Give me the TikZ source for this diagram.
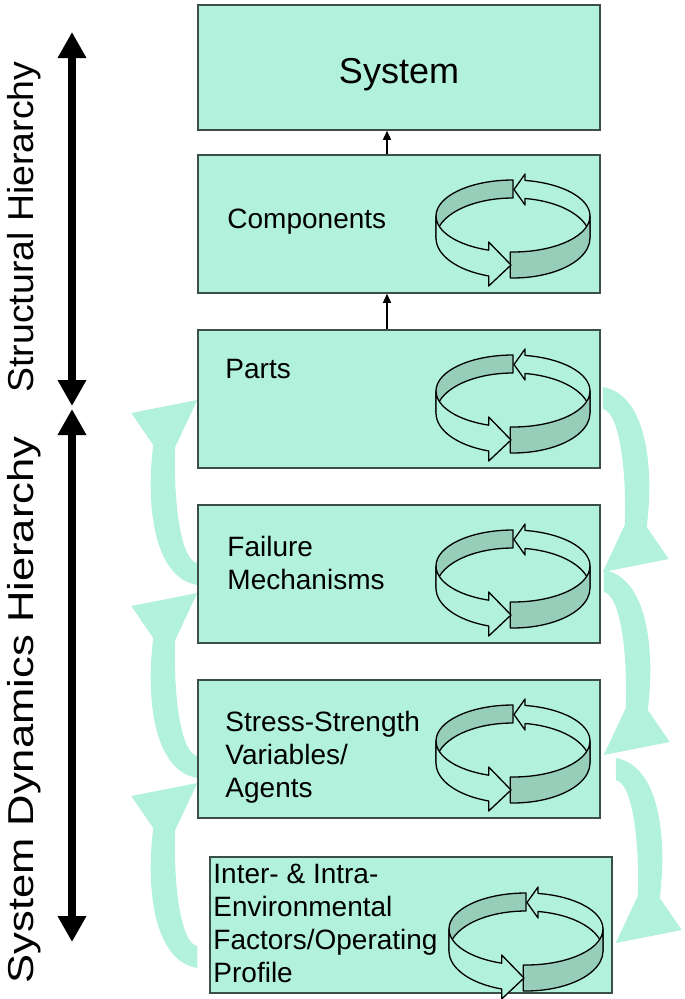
\documentclass[tikz,border=0pt]{standalone}
\usepackage{fontspec}
\setmainfont{Liberation Sans}
\usetikzlibrary{arrows.meta,backgrounds}

\definecolor{mint}{RGB}{178,242,220}
\definecolor{mintdark}{RGB}{150,206,186}
\definecolor{boxline}{RGB}{60,78,72}

\tikzset{
	box/.style={draw=boxline, fill=mint, line width=1.5pt, minimum width=402pt, minimum height=138pt, inner sep=0pt},
	boxtext/.style={font=\fontsize{28}{33}\selectfont, align=left, inner sep=0pt, anchor=north west},
	vlabel/.style={font=\fontsize{36}{40}\selectfont, rotate=90, anchor=base, inner sep=0pt},
	hier/.style={line width=8pt, >={Triangle[width=27pt,length=26pt]}, <->},
	uparrow/.style={line width=1.4pt, -{Triangle[width=8pt,length=9pt]}},
	ring/.style={draw=black, line width=1.3pt, line join=round},
	loopicon/.pic={
		\filldraw[ring, fill=mintdark] (-77,0) arc[start angle=180,end angle=90,x radius=77,y radius=36]
			-- (0,18) arc[start angle=90,end angle=180,x radius=77,y radius=40] -- cycle;
		\filldraw[ring, fill=mint] (77,0) arc[start angle=0,end angle=81,x radius=77,y radius=36]
			-- (12.04,42) -- (1,26.5) -- (12.04,11) -- (12.04,17.51)
			arc[start angle=81,end angle=0,x radius=77,y radius=40] -- cycle;
		\filldraw[ring, fill=mintdark] (-2.69,-35.98) arc[start angle=268,end angle=360,x radius=77,y radius=36]
			-- (77,-22) arc[start angle=0,end angle=-92,x radius=77,y radius=40] -- cycle;
		\filldraw[ring, fill=mint] (-77,0) arc[start angle=180,end angle=251.6,x radius=77,y radius=36]
			-- (-24.3,-26) -- (-2,-49) -- (-24.3,-70) -- (-24.3,-59.96)
			arc[start angle=251.6,end angle=180,x radius=77,y radius=40] -- cycle;
	},
	bigarrow/.pic={
		\fill[mint] (0,0) -- (-66,-13) -- (-44,-45)
			.. controls (-52,-110) and (-42,-178) .. (0,-185)
			-- (0,-163)
			.. controls (-17,-160) and (-24,-100) .. (-22,-47) -- cycle;
	}
}

\begin{document}
\begin{tikzpicture}[x=1pt,y=1pt]
	\useasboundingbox (0,0) rectangle (685,-999);

	\node[box, minimum height=125pt] (sys) at (399,-67.5) {};
	\node[box] (comp) at (399,-224) {};
	\node[box] (parts) at (399,-399) {};
	\node[box] (fail) at (399,-574) {};
	\node[box] (stress) at (399,-749) {};
	\node[box, minimum height=136pt] (inter) at (411,-925) {};

	\node[font=\fontsize{36}{40}\selectfont, anchor=base, inner sep=0pt] (systxt) at ([yshift=-16]sys.center) {System};
	\node[boxtext] (comptxt) at ([shift={(30,-54)}]comp.north west) {Components};
	\node[boxtext] (partstxt) at ([shift={(28,-30)}]parts.north west) {Parts};
	\node[boxtext] (failtxt) at ([shift={(30,-32)}]fail.north west) {Failure\\Mechanisms};
	\node[boxtext] (stresstxt) at ([shift={(28,-32)}]stress.north west) {Stress-Strength\\Variables/\\Agents};
	\node[boxtext] (intertxt) at ([shift={(4,-8)}]inter.north west) {Inter- \& Intra-\\Environmental\\Factors/Operating\\Profile};

	\pic at ([shift={(114,8)}]comp.center) {loopicon};
	\pic at ([shift={(114,8)}]parts.center) {loopicon};
	\pic at ([shift={(114,8)}]fail.center) {loopicon};
	\pic at ([shift={(114,8)}]stress.center) {loopicon};
	\pic at ([shift={(115,-4)}]inter.center) {loopicon};

	\draw[uparrow] ([xshift=-12pt]comp.north) -- ([xshift=-12pt]sys.south);
	\draw[uparrow] ([xshift=-12pt]parts.north) -- ([xshift=-12pt]comp.south);

	% feedback between the levels
	\begin{scope}[on background layer]
		\pic at ([yshift=-1pt]parts.west) {bigarrow};
		\pic at ([yshift=-19pt]fail.west) {bigarrow};
		\pic at ([yshift=-34pt]stress.west) {bigarrow};
		\pic[rotate=180] at ([shift={(2,2)}]fail.east) {bigarrow};
		\pic[rotate=180] at ([shift={(3,-6)}]stress.east) {bigarrow};
		\pic[rotate=180] at ([shift={(3,-18)}]inter.east) {bigarrow};
	\end{scope}

	\coordinate (stTop) at (72,-32);
	\coordinate (stBot) at (72,-406);
	\coordinate (dyTop) at (72,-409);
	\coordinate (dyBot) at (72,-942);
	\draw[hier] (stTop) -- (stBot);
	\draw[hier] (dyTop) -- (dyBot);

	\node[vlabel, xscale=1.04] (stLabel) at (34,-227) {Structural Hierarchy};
	\node[vlabel, xscale=1.21] (dyLabel) at (34,-710) {System Dynamics Hierarchy};
\end{tikzpicture}
\end{document}
